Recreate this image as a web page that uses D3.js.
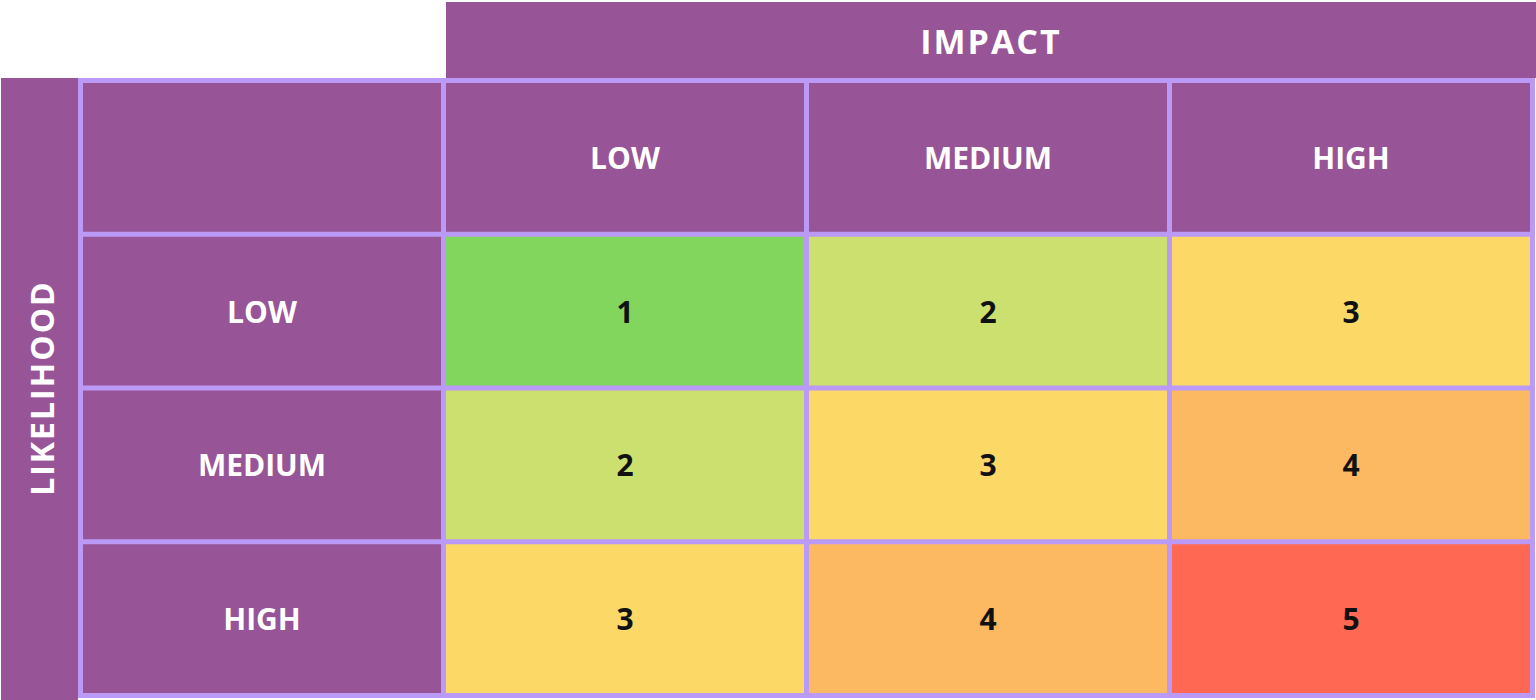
<!DOCTYPE html>
<html lang="en">
<head>
<meta charset="UTF-8">
<script src="https://d3js.org/d3.v7.min.js"></script>
<style>
  body { margin: 0; background: #fff; }
  text { font-family: "Open Sans", sans-serif; font-weight: 700; }
</style>
</head>
<body>
<svg id="chart" width="1536" height="700"></svg>
<script>
const impactLevels = ["LOW", "MEDIUM", "HIGH"];
const likelihoodLevels = ["LOW", "MEDIUM", "HIGH"];
// score[row][col] : row = likelihood, col = impact
const scores = [
  [1, 2, 3],
  [2, 3, 4],
  [3, 4, 5]
];
const scoreColors = {1: "#82d65e", 2: "#cbe06f", 3: "#fcd966", 4: "#fdb962", 5: "#ff6852"};

const purple = "#975597", border = "#bb99f7";
const svg = d3.select("#chart");
const gap = 5;

const x = d3.scaleBand().domain(["", ...impactLevels]).range([78, 1530]);
const y = d3.scaleBand().domain(["", ...likelihoodLevels]).range([78, 693]);

// top header
svg.append("rect").attr("x", 446).attr("y", 2).attr("width", 1090).attr("height", 76).attr("fill", purple);
svg.append("text").attr("x", 446 + 545).attr("y", 41).attr("text-anchor", "middle")
  .attr("dominant-baseline", "central").attr("fill", "#fff").attr("font-size", 34)
  .attr("letter-spacing", 2).text("IMPACT");

// side header
svg.append("rect").attr("x", 1).attr("y", 78).attr("width", 77).attr("height", 622).attr("fill", purple);
svg.append("text").attr("transform", "translate(41,388) rotate(-90)").attr("text-anchor", "middle")
  .attr("dominant-baseline", "central").attr("fill", "#fff").attr("font-size", 32)
  .attr("letter-spacing", 2).text("LIKELIHOOD");

// grid background = border lines
svg.append("rect").attr("x", 78).attr("y", 78).attr("width", 1530 + gap - 78).attr("height", 693 + gap - 78).attr("fill", border);

const cells = [];
["", ...likelihoodLevels].forEach((r, ri) => {
  ["", ...impactLevels].forEach((c, ci) => {
    let fill = purple, label = "", color = "#fff";
    if (ri === 0 && ci > 0) label = c;
    else if (ci === 0 && ri > 0) label = r;
    else if (ri > 0 && ci > 0) {
      const s = scores[ri - 1][ci - 1];
      fill = scoreColors[s]; label = s; color = "#111";
    }
    cells.push({r: ri, c: ci, rk: r, ck: c, fill, label, color});
  });
});

const g = svg.selectAll("g.cell").data(cells).join("g").attr("class", "cell");
g.append("rect")
  .attr("x", d => x(["", ...impactLevels][d.c]) + gap)
  .attr("y", d => y(["", ...likelihoodLevels][d.r]) + gap)
  .attr("width", x.bandwidth() - gap)
  .attr("height", y.bandwidth() - gap)
  .attr("fill", d => d.fill);
g.append("text")
  .attr("x", d => x(["", ...impactLevels][d.c]) + gap / 2 + x.bandwidth() / 2)
  .attr("y", d => y(["", ...likelihoodLevels][d.r]) + gap / 2 + y.bandwidth() / 2)
  .attr("text-anchor", "middle").attr("dominant-baseline", "central")
  .attr("font-size", 30).attr("fill", d => d.color)
  .text(d => d.label);
</script>
</body>
</html>
